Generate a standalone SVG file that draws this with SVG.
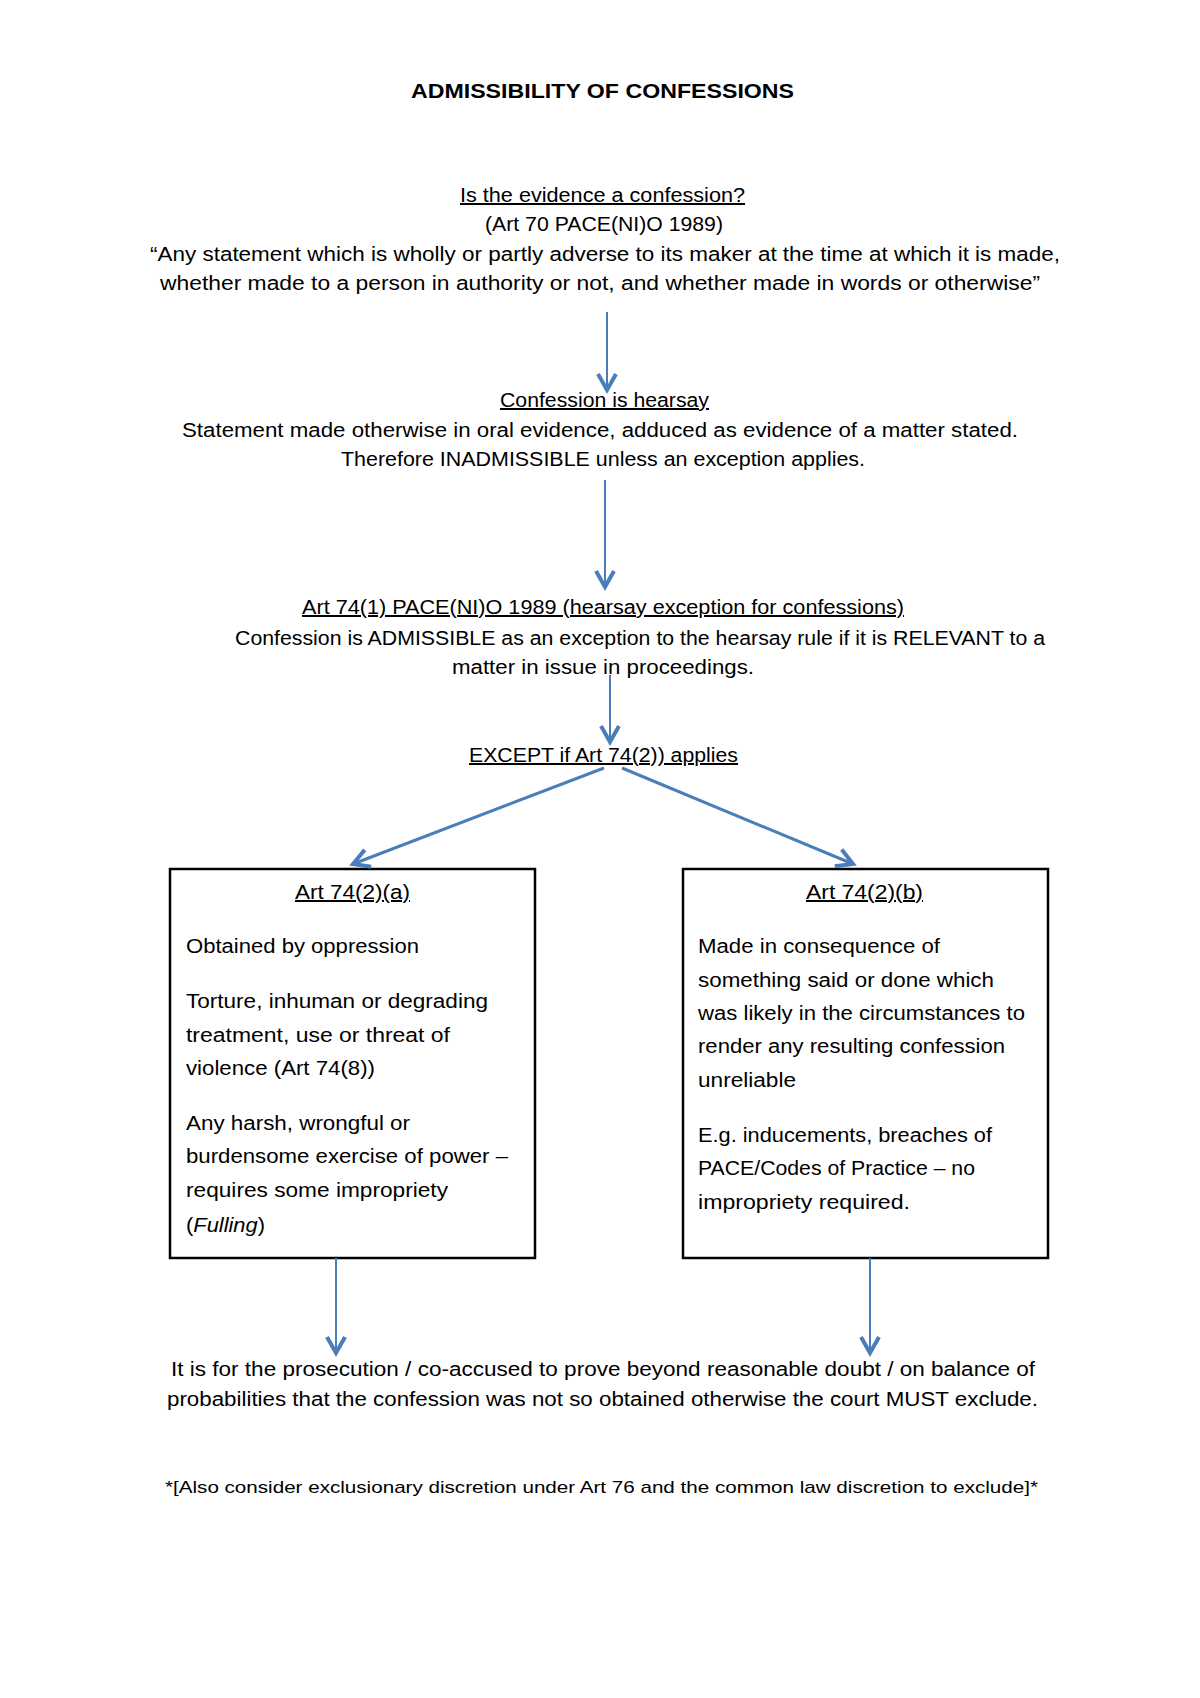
<svg xmlns="http://www.w3.org/2000/svg" width="1200" height="1698" viewBox="0 0 1200 1698">
<style>
text{font-family:"Liberation Sans",Arial,sans-serif;font-size:20px;fill:#000}
.t{font-weight:bold;font-size:21px}
.u{text-decoration:underline}
.fn{font-size:17px}
.box{fill:#fff;stroke:#000;stroke-width:2.5}
.con{stroke:#4A7EBB;stroke-width:2;fill:none}
.diag{stroke:#4A7EBB;stroke-width:3;fill:none}
</style>
<defs>
<marker id="ah" viewBox="-22 -14 26 28" refX="0" refY="0" markerWidth="26" markerHeight="28" markerUnits="userSpaceOnUse" orient="auto" overflow="visible">
<path d="M-16,-9 L0,0 L-16,9" fill="none" stroke="#4A7EBB" stroke-width="4"/>
</marker>
</defs>
<rect width="1200" height="1698" fill="#fff"/>

<g id="title"><text class="t" x="411" y="98" textLength="383" lengthAdjust="spacingAndGlyphs">ADMISSIBILITY OF CONFESSIONS</text></g>

<g id="node-confession">
<text class="u" x="460" y="202" textLength="285" lengthAdjust="spacingAndGlyphs">Is the evidence a confession?</text>
<text x="485" y="231" textLength="238" lengthAdjust="spacingAndGlyphs">(Art 70 PACE(NI)O 1989)</text>
<text x="150" y="261" textLength="910" lengthAdjust="spacingAndGlyphs">“Any statement which is wholly or partly adverse to its maker at the time at which it is made,</text>
<text x="160" y="290" textLength="880" lengthAdjust="spacingAndGlyphs">whether made to a person in authority or not, and whether made in words or otherwise”</text>
</g>

<g id="node-hearsay">
<text class="u" x="500" y="407" textLength="209" lengthAdjust="spacingAndGlyphs">Confession is hearsay</text>
<text x="182" y="437" textLength="836" lengthAdjust="spacingAndGlyphs">Statement made otherwise in oral evidence, adduced as evidence of a matter stated.</text>
<text x="341" y="466" textLength="524" lengthAdjust="spacingAndGlyphs">Therefore INADMISSIBLE unless an exception applies.</text>
</g>

<g id="node-art74-1">
<text class="u" x="302" y="614" textLength="602" lengthAdjust="spacingAndGlyphs">Art 74(1) PACE(NI)O 1989 (hearsay exception for confessions)</text>
<text x="235" y="645" textLength="810" lengthAdjust="spacingAndGlyphs">Confession is ADMISSIBLE as an exception to the hearsay rule if it is RELEVANT to a</text>
<text x="452" y="674" textLength="302" lengthAdjust="spacingAndGlyphs">matter in issue in proceedings.</text>
</g>

<g id="node-except">
<text class="u" x="469" y="762" textLength="269" lengthAdjust="spacingAndGlyphs">EXCEPT if Art 74(2)) applies</text>
</g>

<g id="node-art74-2a">
<rect class="box" x="170" y="869" width="365" height="389"/>
<text class="u" x="295" y="899" textLength="115" lengthAdjust="spacingAndGlyphs">Art 74(2)(a)</text>
<text x="186" y="953" textLength="233" lengthAdjust="spacingAndGlyphs">Obtained by oppression</text>
<text x="186" y="1008" textLength="302" lengthAdjust="spacingAndGlyphs">Torture, inhuman or degrading</text>
<text x="186" y="1042" textLength="264" lengthAdjust="spacingAndGlyphs">treatment, use or threat of</text>
<text x="186" y="1075" textLength="189" lengthAdjust="spacingAndGlyphs">violence (Art 74(8))</text>
<text x="186" y="1130" textLength="224" lengthAdjust="spacingAndGlyphs">Any harsh, wrongful or</text>
<text x="186" y="1163" textLength="322" lengthAdjust="spacingAndGlyphs">burdensome exercise of power –</text>
<text x="186" y="1197" textLength="262" lengthAdjust="spacingAndGlyphs">requires some impropriety</text>
<text x="186" y="1232" textLength="79" lengthAdjust="spacingAndGlyphs">(<tspan font-style="italic">Fulling</tspan>)</text>
</g>

<g id="node-art74-2b">
<rect class="box" x="683" y="869" width="365" height="389"/>
<text class="u" x="806" y="899" textLength="117" lengthAdjust="spacingAndGlyphs">Art 74(2)(b)</text>
<text x="698" y="953" textLength="242" lengthAdjust="spacingAndGlyphs">Made in consequence of</text>
<text x="698" y="987" textLength="296" lengthAdjust="spacingAndGlyphs">something said or done which</text>
<text x="698" y="1020" textLength="327" lengthAdjust="spacingAndGlyphs">was likely in the circumstances to</text>
<text x="698" y="1053" textLength="307" lengthAdjust="spacingAndGlyphs">render any resulting confession</text>
<text x="698" y="1087" textLength="98" lengthAdjust="spacingAndGlyphs">unreliable</text>
<text x="698" y="1142" textLength="294" lengthAdjust="spacingAndGlyphs">E.g. inducements, breaches of</text>
<text x="698" y="1175" textLength="277" lengthAdjust="spacingAndGlyphs">PACE/Codes of Practice – no</text>
<text x="698" y="1209" textLength="212" lengthAdjust="spacingAndGlyphs">impropriety required.</text>
</g>

<g id="node-burden">
<text x="171" y="1376" textLength="864" lengthAdjust="spacingAndGlyphs">It is for the prosecution / co-accused to prove beyond reasonable doubt / on balance of</text>
<text x="167" y="1406" textLength="871" lengthAdjust="spacingAndGlyphs">probabilities that the confession was not so obtained otherwise the court MUST exclude.</text>
</g>

<g id="node-footnote">
<text class="fn" x="165" y="1493" textLength="873" lengthAdjust="spacingAndGlyphs">*[Also consider exclusionary discretion under Art 76 and the common law discretion to exclude]*</text>
</g>

<g id="connectors">
<line class="con" x1="607" y1="312" x2="607" y2="390" marker-end="url(#ah)"/>
<line class="con" x1="605" y1="480" x2="605" y2="587" marker-end="url(#ah)"/>
<line class="con" x1="610" y1="675" x2="610" y2="742" marker-end="url(#ah)"/>
<line class="diag" x1="604" y1="768" x2="353" y2="864" marker-end="url(#ah)"/>
<line class="diag" x1="622" y1="768" x2="853" y2="864" marker-end="url(#ah)"/>
<line class="con" x1="336" y1="1258" x2="336" y2="1353" marker-end="url(#ah)"/>
<line class="con" x1="870" y1="1258" x2="870" y2="1353" marker-end="url(#ah)"/>
</g>
</svg>
